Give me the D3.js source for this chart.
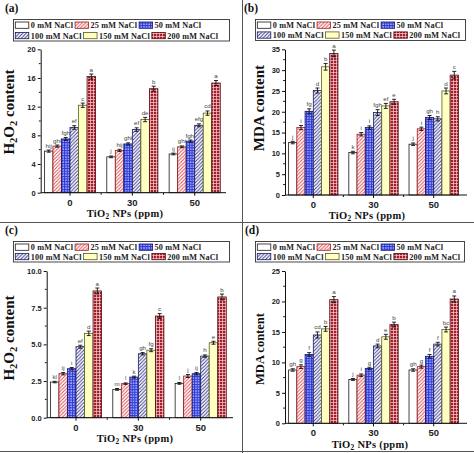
<!DOCTYPE html>
<html><head><meta charset="utf-8">
<script src="https://cdn.jsdelivr.net/npm/d3@7"></script>
<style>body{margin:0;background:#fff}svg{display:block}</style>
</head><body>
<svg id="chart" width="474" height="453"></svg>
<script>
// ---------- data ----------
const tio2Levels = ["0", "30", "50"];
const naclLevels = ["0 mM NaCl", "25 mM NaCl", "50 mM NaCl", "100 mM NaCl", "150 mM NaCl", "200 mM NaCl"];

// (a) H2O2 content
const h2o2A = [[5.8, 6.5, 7.5, 9.1, 12.2, 16.2], [5.0, 5.9, 6.8, 8.8, 10.2, 14.5], [5.4, 6.4, 7.2, 9.4, 11.1, 15.3]];
const h2o2AErr = [[0.15, 0.15, 0.2, 0.25, 0.3, 0.35], [0.12, 0.15, 0.15, 0.25, 0.3, 0.35], [0.12, 0.12, 0.15, 0.2, 0.3, 0.35]];
const h2o2ALetters = [["hij", "ghi", "fgh", "ef", "c", "a"], ["j", "hij", "ghi", "ef", "de", "b"], ["ij", "ghi", "fghi", "efg", "cd", "a"]];
const h2o2ATicks = [0, 4, 8, 12, 16, 20];

// (b) MDA content
const mdaB = [[12.6, 16.2, 20.1, 25.1, 30.8, 34.0], [10.2, 14.6, 16.2, 19.8, 21.4, 22.4], [12.2, 15.9, 18.6, 18.3, 25.0, 28.8]];
const mdaBErr = [[0.3, 0.5, 0.6, 0.6, 0.8, 0.8], [0.3, 0.4, 0.4, 0.7, 0.6, 0.6], [0.3, 0.4, 0.5, 0.5, 0.7, 0.9]];
const mdaBLetters = [["j", "i", "fg", "d", "b", "a"], ["k", "i", "i", "fgh", "ef", "e"], ["j", "i", "gh", "h", "d", "c"]];
const mdaBTicks = [0, 5, 10, 15, 20, 25, 30, 35];

// (c) H2O2 content
const h2o2C = [[2.43, 3.0, 3.34, 4.84, 5.75, 8.64], [1.93, 2.32, 2.77, 4.36, 4.6, 6.93], [2.34, 2.84, 3.0, 4.2, 5.11, 8.23]];
const h2o2CErr = [[0.05, 0.08, 0.08, 0.1, 0.15, 0.2], [0.06, 0.05, 0.06, 0.08, 0.1, 0.17], [0.06, 0.1, 0.08, 0.08, 0.1, 0.2]];
const h2o2CLetters = [["kl", "ij", "i", "ef", "d", "a"], ["m", "l", "k", "gh", "fg", "c"], ["l", "j", "ij", "h", "e", "b"]];
const h2o2CTicks = [0, 2.5, 5, 7.5, 10];

// (d) MDA content
const mdaD = [[8.75, 9.3, 11.3, 14.5, 15.5, 20.3], [7.2, 7.9, 9.0, 12.7, 14.2, 16.2], [8.75, 9.3, 11.0, 13.0, 15.4, 20.4]];
const mdaDErr = [[0.2, 0.3, 0.3, 0.5, 0.4, 0.5], [0.15, 0.2, 0.2, 0.3, 0.4, 0.4], [0.2, 0.25, 0.3, 0.3, 0.4, 0.5]];
const mdaDLetters = [["gh", "g", "f", "cd", "b", "a"], ["j", "i", "g", "d", "e", "b"], ["gh", "g", "f", "f", "bc", "a"]];
const mdaDTicks = [0, 5, 10, 15, 20, 25];

// ---------- styling ----------
const svg = d3.select("#chart");
const defs = svg.append("defs");
function diag(id, color) {
  const p = defs.append("pattern").attr("id", id).attr("width", 3.5).attr("height", 3.5).attr("patternUnits", "userSpaceOnUse");
  p.append("rect").attr("width", 3.5).attr("height", 3.5).attr("fill", "#fff");
  p.append("path").attr("d", "M-1,1 L1,-1 M0,3.5 L3.5,0 M2.5,4.5 L4.5,2.5").attr("stroke", color).attr("stroke-width", 0.9);
}
diag("p25", "#e0474a");
diag("p100", "#34348c");
{
  const p = defs.append("pattern").attr("id", "p50").attr("width", 2.6).attr("height", 2.6).attr("patternUnits", "userSpaceOnUse");
  p.append("rect").attr("width", 2.6).attr("height", 2.6).attr("fill", "#2a36d8");
  p.append("rect").attr("x", 0.3).attr("y", 0.3).attr("width", 1.3).attr("height", 1.3).attr("fill", "#e4e6ff");
}
{
  const p = defs.append("pattern").attr("id", "p200").attr("width", 3).attr("height", 3).attr("patternUnits", "userSpaceOnUse");
  p.append("rect").attr("width", 3).attr("height", 3).attr("fill", "#a41e2a");
  p.append("path").attr("d", "M0,0.4 H3 M0.4,0 V3").attr("stroke", "#f3cfd2").attr("stroke-width", 0.8);
}
const fills = ["#ffffff", "url(#p25)", "url(#p50)", "url(#p100)", "#ffffc2", "url(#p200)"];
const strokes = ["#1a1a1a", "#9a1d1d", "#151570", "#1c1c5c", "#5c5c1c", "#5a0a12"];

const serif = "'Liberation Serif','Times New Roman',serif";
const sans = "'Liberation Sans',Arial,sans-serif";

// ---------- panels ----------
const panels = [
  { tag: "(a)", values: h2o2A, errs: h2o2AErr, letters: h2o2ALetters, ticks: h2o2ATicks, fmt: "d", title: "H2O2",
    L: { tagX: 5, tagY: 11.5, box: [13.5, 19.5, 216, 21.5], x0: 40.7, bandEnd: 224, axisEnd: 226, yTop: 49.3, yBot: 192.7,
         ytX: 14, ytY: 112, ytSize: 15, xtX: 125, xtY: 217 } },
  { tag: "(b)", values: mdaB, errs: mdaBErr, letters: mdaBLetters, ticks: mdaBTicks, fmt: "d", title: "MDA",
    L: { tagX: 244, tagY: 11.5, box: [255.5, 19.5, 210, 21], x0: 285, bandEnd: 462, axisEnd: 467, yTop: 49.3, yBot: 195,
         ytX: 264, ytY: 108, ytSize: 15, xtX: 367, xtY: 218.5 } },
  { tag: "(c)", values: h2o2C, errs: h2o2CErr, letters: h2o2CLetters, ticks: h2o2CTicks, fmt: ".1f", title: "H2O2",
    L: { tagX: 5, tagY: 234, box: [13.5, 241.5, 216, 20.5], x0: 46.7, bandEnd: 230, axisEnd: 233, yTop: 271, yBot: 417.7,
         ytX: 14, ytY: 338, ytSize: 15, xtX: 135, xtY: 441.5 } },
  { tag: "(d)", values: mdaD, errs: mdaDErr, letters: mdaDLetters, ticks: mdaDTicks, fmt: "d", title: "MDA",
    L: { tagX: 245, tagY: 234, box: [255.5, 241.5, 209, 20.5], x0: 285, bandEnd: 462, axisEnd: 467, yTop: 271, yBot: 423.3,
         ytX: 264, ytY: 349, ytSize: 12.5, xtX: 370, xtY: 447.5 } }
];

function subText(sel, parts) {
  let prevSub = false;
  parts.forEach(([t, sub]) => {
    const ts = sel.append("tspan").text(t);
    if (sub) ts.attr("font-size", "0.7em");
    if (sub && !prevSub) ts.attr("dy", "0.3em");
    if (!sub && prevSub) ts.attr("dy", "-0.21em");
    prevSub = sub;
  });
}

function drawPanel(p) {
  const L = p.L;
  const g = svg.append("g");
  const x = d3.scaleBand().domain(tio2Levels).range([L.x0, L.bandEnd]).paddingInner(0.18).paddingOuter(0.06);
  const xi = d3.scaleBand().domain(naclLevels).range([0, x.bandwidth()]);
  const yMax = p.ticks[p.ticks.length - 1];
  const y = d3.scaleLinear().domain([0, yMax]).range([L.yBot, L.yTop]);

  g.append("text").attr("x", L.tagX).attr("y", L.tagY).text(p.tag)
    .attr("font-family", serif).attr("font-weight", "bold").attr("font-size", 11.5).attr("fill", "#111");

  // legend
  const [bx, by, bw, bh] = L.box;
  const lg = g.append("g");
  lg.append("rect").attr("x", bx).attr("y", by).attr("width", bw).attr("height", bh)
    .attr("fill", "#fff").attr("stroke", "#333").attr("stroke-width", 0.9);
  [[0, 1, 2], [3, 4, 5]].forEach((row, ri) => {
    let cx = bx + 1.8;
    const rowTop = ri === 0 ? by + 2.5 : by + bh - 8.6;
    row.forEach(si => {
      lg.append("rect").attr("x", cx).attr("y", rowTop).attr("width", 13.5).attr("height", 6.3)
        .attr("fill", fills[si]).attr("stroke", strokes[si]).attr("stroke-width", 0.8);
      const t = lg.append("text").attr("x", cx + 15.5).attr("y", rowTop + 6.2).text(naclLevels[si])
        .attr("font-family", serif).attr("font-weight", "bold").attr("font-size", 8.2).attr("fill", "#222")
        .attr("letter-spacing", 0.15);
      cx += 15.5 + t.node().getComputedTextLength() + 2;
    });
  });

  // bars, error bars, letters
  tio2Levels.forEach((t, gi) => {
    naclLevels.forEach((n, si) => {
      const v = p.values[gi][si], e = p.errs[gi][si];
      const bx0 = x(t) + xi(n), w = xi.bandwidth();
      g.append("rect").attr("x", bx0).attr("y", y(v)).attr("width", w).attr("height", y(0) - y(v))
        .attr("fill", fills[si]).attr("stroke", strokes[si]).attr("stroke-width", 0.8);
      const cx = bx0 + w / 2;
      g.append("path").attr("d", `M${cx},${y(v + e)}V${y(v - e)}M${cx - 2},${y(v + e)}H${cx + 2}M${cx - 2},${y(v - e)}H${cx + 2}`)
        .attr("stroke", "#111").attr("stroke-width", 0.9).attr("fill", "none");
      g.append("text").attr("x", cx).attr("y", y(v + e) - 2.5).attr("text-anchor", "middle").text(p.letters[gi][si])
        .attr("font-family", sans).attr("font-size", 6.2).attr("fill", "#444");
    });
  });

  // y axis
  const ya = g.append("g").attr("transform", `translate(${L.x0},0)`)
    .call(d3.axisLeft(y).tickValues(p.ticks).tickFormat(d3.format(p.fmt)).tickSizeInner(3).tickSizeOuter(0).tickPadding(2));
  ya.selectAll("text").attr("font-family", sans).attr("font-weight", "bold").attr("font-size", 7.5).attr("fill", "#222");
  ya.selectAll("line,path").attr("stroke", "#111");
  const step = p.ticks[1] - p.ticks[0];
  p.ticks.slice(0, -1).forEach(tk => {
    g.append("line").attr("x1", L.x0 - 1.8).attr("x2", L.x0).attr("y1", y(tk + step / 2)).attr("y2", y(tk + step / 2)).attr("stroke", "#111");
  });

  // x axis
  g.append("line").attr("x1", L.x0).attr("x2", L.axisEnd).attr("y1", L.yBot).attr("y2", L.yBot).attr("stroke", "#111");
  tio2Levels.forEach((t, i) => {
    const c = x(t) + x.bandwidth() / 2;
    g.append("line").attr("x1", c).attr("x2", c).attr("y1", L.yBot).attr("y2", L.yBot + 3).attr("stroke", "#111");
    g.append("text").attr("x", c).attr("y", L.yBot + 12.8).attr("text-anchor", "middle").text(t)
      .attr("font-family", sans).attr("font-weight", "bold").attr("font-size", 9.5).attr("fill", "#222");
    if (i < tio2Levels.length - 1) {
      const m = c + x.step() / 2;
      g.append("line").attr("x1", m).attr("x2", m).attr("y1", L.yBot).attr("y2", L.yBot + 2).attr("stroke", "#111");
    }
  });

  // axis titles
  const xt = g.append("text").attr("x", L.xtX).attr("y", L.xtY).attr("text-anchor", "middle")
    .attr("font-family", serif).attr("font-weight", "bold").attr("font-size", 10.5).attr("fill", "#111").attr("letter-spacing", 0.3);
  subText(xt, [["TiO", false], ["2", true], [" NPs (ppm)", false]]);

  const yt = g.append("text").attr("transform", `translate(${L.ytX},${L.ytY}) rotate(-90)`).attr("text-anchor", "middle")
    .attr("font-family", serif).attr("font-weight", "bold").attr("font-size", L.ytSize).attr("fill", "#111");
  if (p.title === "H2O2") subText(yt, [["H", false], ["2", true], ["O", false], ["2", true], [" content", false]]);
  else yt.text("MDA content");
}

panels.forEach(drawPanel);

// panel dividers
svg.append("line").attr("x1", 242.5).attr("x2", 242.5).attr("y1", 0).attr("y2", 453).attr("stroke", "#555").attr("stroke-width", 1);
svg.append("line").attr("x1", 0).attr("x2", 474).attr("y1", 222.5).attr("y2", 222.5).attr("stroke", "#555").attr("stroke-width", 1);
svg.append("line").attr("x1", 0).attr("x2", 474).attr("y1", 451.5).attr("y2", 451.5).attr("stroke", "#555").attr("stroke-width", 1);
</script>
</body></html>
